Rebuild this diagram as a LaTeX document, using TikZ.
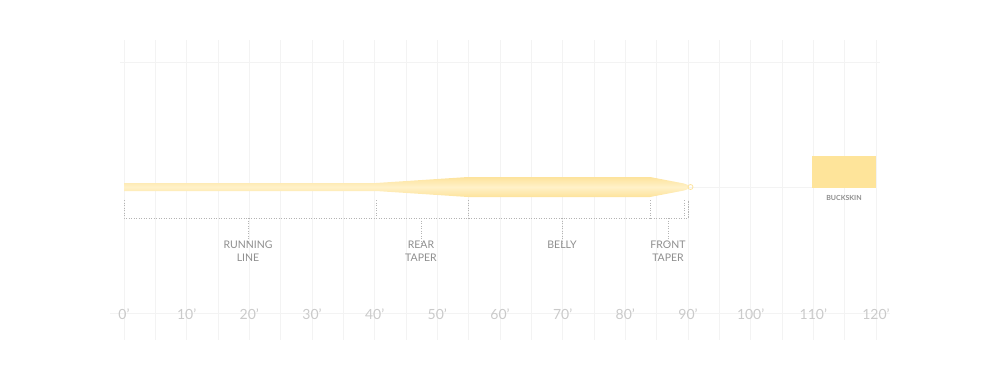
\documentclass[tikz,border=0pt]{standalone}
\usepackage{fontspec}
\setmainfont{Lato}
\definecolor{gridc}{HTML}{F3F3F3}
\definecolor{axisc}{HTML}{CACACA}
\definecolor{labc}{HTML}{8E8E8E}
\definecolor{dotc}{HTML}{B4B4B4}
\definecolor{flyA}{HTML}{FDE39C}
\definecolor{flyB}{HTML}{FFF1C8}
\definecolor{buck}{HTML}{FEE49A}
\begin{document}
\begin{tikzpicture}[x=1pt,y=-1pt,
  gridline/.style={draw=gridc,line width=0.5pt},
  dotline/.style={draw=dotc,line width=0.7pt,dash pattern=on 1.2pt off 1.3pt},
  axislab/.style={text=axisc,font=\fontsize{14}{14}\selectfont,inner sep=0pt},
  seclab/.style={text=labc,font=\fontsize{10.5}{12.5}\selectfont,align=center,inner sep=0pt},
  pt/.style={inner sep=0pt,minimum size=0pt}]
\useasboundingbox (0,0) rectangle (1000,375);
% grid
\foreach \i in {0,...,24}{
  \draw[gridline] ({124+31.333*\i},40) -- ({124+31.333*\i},340);
}
\draw[gridline] (120,62) -- (880,62);
\draw[gridline] (110,313) -- (890,313);
\draw[gridline] (124,187) -- (876,187);
% axis labels
\foreach \f [count=\k from 0] in {0,10,20,30,40,50,60,70,80,90,100,110,120}{
  \node[axislab] (ax\k) at ({124+62.667*\k},314) {\f’};
}
% fly line
\shade[top color=flyA,bottom color=flyA,middle color=flyB]
  (124,183) -- (376,183) -- (468,177) -- (650,177) -- (684,183.5)
  .. controls (690,184) and (690,190) .. (684,190.5)
  -- (650,197) -- (468,197) -- (376,191) -- (124,191) -- cycle;
\draw[flyA,line width=0.8pt] (690.5,187) circle (2.5);
% buckskin
\node[fill=buck,minimum width=64pt,minimum height=32pt,inner sep=0pt,anchor=north west] (buck) at (812,156) {};
\node[text=labc,font=\fontsize{7}{7}\selectfont\bfseries,inner sep=0pt] (bucklab) at (844,197.5) {BUCKSKIN};
% bracket coordinates
\foreach \n/\x in {a/124,b/376,c/468,d/650,e/684,f/688}{
  \coordinate (\n1) at (\x,200);
  \coordinate (\n2) at (\x,218);
}
\draw[dotline] (a1) -- (a2) -- (f2) -- (f1);
\draw[dotline] (b1) -- (b2);
\draw[dotline] (c1) -- (c2);
\draw[dotline] (d1) -- (d2);
\draw[dotline] (e1) -- (e2);
% section labels
\node[seclab,anchor=north] (run) at (248,241) {RUNNING\\LINE};
\node[seclab,anchor=north] (rear) at (421,241) {REAR\\TAPER};
\node[seclab,anchor=north] (belly) at (562,241) {BELLY};
\node[seclab,anchor=north] (front) at (668,241) {FRONT\\TAPER};
\foreach \n/\x in {run/248,rear/421,belly/562,front/668}{
  \coordinate (\n t) at (\x,218);
  \draw[dotline] (\n t) -- ([yshift=-3pt]\n.north);
}
\end{tikzpicture}
\end{document}
